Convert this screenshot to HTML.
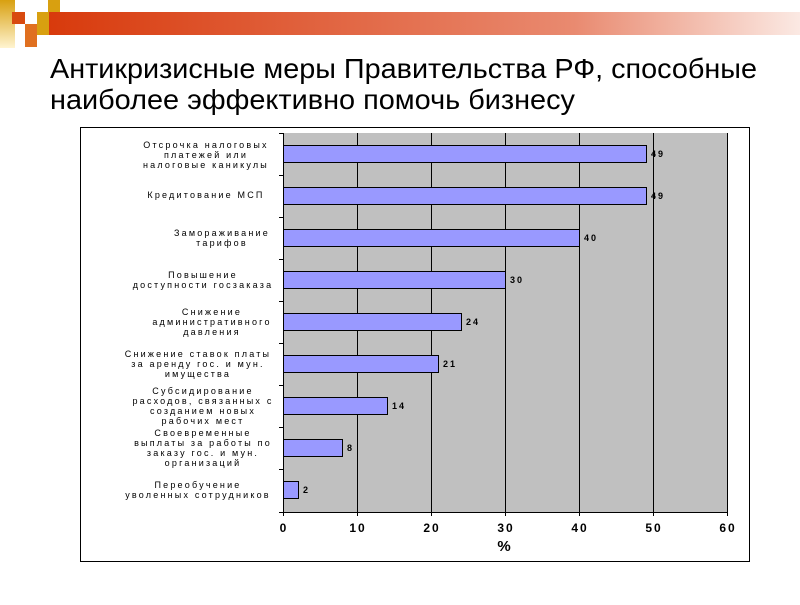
<!DOCTYPE html>
<html><head><meta charset="utf-8"><style>
body{margin:0;width:800px;height:600px;background:#fff;overflow:hidden;font-family:"Liberation Sans",sans-serif;}
</style></head><body>
<svg width="800" height="600" xmlns="http://www.w3.org/2000/svg" font-family="Liberation Sans, sans-serif">
<defs>
<linearGradient id="bar" x1="0" x2="1"><stop offset="0" stop-color="#d83a0c"/><stop offset="0.7" stop-color="#e98a70"/><stop offset="1" stop-color="#fbe9e3"/></linearGradient>
<linearGradient id="gold" x1="0" x2="0" y1="0" y2="1"><stop offset="0" stop-color="#d8a010"/><stop offset="1" stop-color="#fff4d0"/></linearGradient>
</defs>
<rect x="48" y="12" width="752" height="23" fill="url(#bar)"/>
<rect x="0" y="0" width="15" height="48" fill="url(#gold)"/>
<rect x="12" y="12" width="13" height="12" fill="#d84a10"/>
<rect x="37" y="12" width="12" height="23" fill="#d8a010"/>
<rect x="48" y="0" width="12" height="12" fill="#d8a010"/>
<rect x="25" y="24" width="12" height="23" fill="#e07020"/>
<text x="50" y="78" font-size="28" textLength="707" lengthAdjust="spacingAndGlyphs">Антикризисные меры Правительства РФ, способные</text>
<text x="50" y="109" font-size="28" textLength="525" lengthAdjust="spacingAndGlyphs">наиболее эффективно помочь бизнесу</text>
<rect x="80.5" y="127.5" width="669" height="434" fill="#fff" stroke="#000"/>
<rect x="283" y="133" width="444" height="379" fill="#c0c0c0"/>
<g stroke="#000" stroke-width="1">
<line x1="357.5" y1="133" x2="357.5" y2="512"/><line x1="431.5" y1="133" x2="431.5" y2="512"/>
<line x1="505.5" y1="133" x2="505.5" y2="512"/><line x1="579.5" y1="133" x2="579.5" y2="512"/>
<line x1="653.5" y1="133" x2="653.5" y2="512"/><line x1="727.5" y1="133" x2="727.5" y2="512"/>
<line x1="283.5" y1="133" x2="283.5" y2="516"/><line x1="279" y1="512.5" x2="727" y2="512.5"/>
</g>
<g stroke="#000">
<line x1="279" x2="283" y1="133.5" y2="133.5"/><line x1="279" x2="283" y1="175.5" y2="175.5"/><line x1="279" x2="283" y1="217.5" y2="217.5"/><line x1="279" x2="283" y1="259.5" y2="259.5"/><line x1="279" x2="283" y1="301.5" y2="301.5"/><line x1="279" x2="283" y1="343.5" y2="343.5"/><line x1="279" x2="283" y1="385.5" y2="385.5"/><line x1="279" x2="283" y1="427.5" y2="427.5"/><line x1="279" x2="283" y1="469.5" y2="469.5"/>
<line y1="512" y2="516" x1="357.5" x2="357.5"/><line y1="512" y2="516" x1="431.5" x2="431.5"/><line y1="512" y2="516" x1="505.5" x2="505.5"/><line y1="512" y2="516" x1="579.5" x2="579.5"/><line y1="512" y2="516" x1="653.5" x2="653.5"/><line y1="512" y2="516" x1="727.5" x2="727.5"/>
</g>
<g fill="#9999ff" stroke="#000">
<rect x="283.5" y="145.5" width="363" height="17"/>
<rect x="283.5" y="187.5" width="363" height="17"/>
<rect x="283.5" y="229.5" width="296" height="17"/>
<rect x="283.5" y="271.5" width="222" height="17"/>
<rect x="283.5" y="313.5" width="178" height="17"/>
<rect x="283.5" y="355.5" width="155" height="17"/>
<rect x="283.5" y="397.5" width="104" height="17"/>
<rect x="283.5" y="439.5" width="59" height="17"/>
<rect x="283.5" y="481.5" width="15" height="17"/>
</g>
<g font-size="9" font-weight="bold" letter-spacing="2">
<text x="651" y="157">49</text><text x="651" y="199">49</text><text x="584" y="241">40</text><text x="510" y="283">30</text><text x="466" y="325">24</text><text x="443" y="367">21</text><text x="392" y="409">14</text><text x="347" y="451">8</text><text x="303" y="493">2</text>
</g>
<g font-size="9" text-anchor="middle" letter-spacing="2.2">
<text x="206" y="148">Отсрочка налоговых</text><text x="206" y="158">платежей или</text><text x="206" y="168">налоговые каникулы</text>
<text x="206" y="198">Кредитование МСП</text>
<text x="222" y="236">Замораживание</text><text x="222" y="246">тарифов</text>
<text x="203" y="278">Повышение</text><text x="203" y="288">доступности госзаказа</text>
<text x="212" y="315">Снижение</text><text x="212" y="325">административного</text><text x="212" y="335">давления</text>
<text x="198" y="357">Снижение ставок платы</text><text x="198" y="367">за аренду гос. и мун.</text><text x="198" y="377">имущества</text>
<text x="203" y="394">Субсидирование</text><text x="203" y="404">расходов, связанных с</text><text x="203" y="414">созданием новых</text><text x="203" y="424">рабочих мест</text>
<text x="203" y="436">Своевременные</text><text x="203" y="446">выплаты за работы по</text><text x="203" y="456">заказу гос. и мун.</text><text x="203" y="466">организаций</text>
<text x="198" y="488">Переобучение</text><text x="198" y="498">уволенных сотрудников</text>
</g>
<g font-size="12" font-weight="bold" text-anchor="middle" letter-spacing="2">
<text x="284" y="532">0</text><text x="358" y="532">10</text><text x="432" y="532">20</text><text x="506" y="532">30</text><text x="580" y="532">40</text><text x="654" y="532">50</text><text x="728" y="532">60</text>
<text x="505" y="551" font-size="15">%</text>
</g>
</svg>
</body></html>
